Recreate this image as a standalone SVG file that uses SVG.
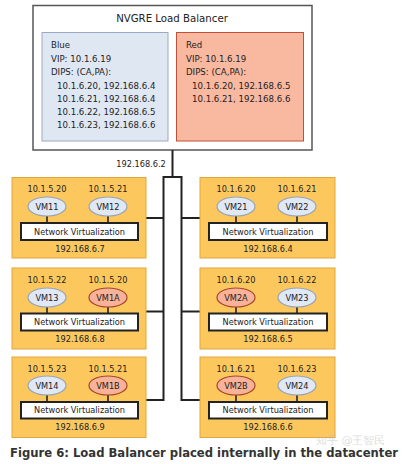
<svg xmlns="http://www.w3.org/2000/svg" width="408" height="464" viewBox="0 0 408 464">
<style>
text{font-family:"DejaVu Sans",Verdana,sans-serif;fill:#222}
.t{font-size:8.2px}
.l{font-size:8.6px}
.c{text-anchor:middle}
.host{fill:#fcc85e;stroke:#e2a53a;stroke-width:1}
.vb{fill:#dfe8f4;stroke:#98a4b4;stroke-width:1.2}
.vr{fill:#f7b29a;stroke:#a8462a;stroke-width:1.2}
.nv{fill:#fff;stroke:#222;stroke-width:2}
.ln{stroke:#222;stroke-width:1.6;fill:none}
.bus{stroke:#222;stroke-width:2;fill:none}
</style>
<rect width="408" height="464" fill="#fff"/>
<g id="lb">
<rect x="33" y="5.5" width="279" height="144.5" fill="#fff" stroke="#555" stroke-width="1.5"/>
<text x="172" y="22" class="c" font-size="10.2">NVGRE Load Balancer</text>
</g>
<g id="blue">
<rect x="42" y="32.5" width="126" height="108.5" fill="#dfe7f3" stroke="#9aaac0" stroke-width="1"/>
<text class="l" x="51" y="48">Blue</text>
<text class="l" x="51" y="61.5">VIP: 10.1.6.19</text>
<text class="l" x="51" y="75">DIPS: (CA,PA):</text>
<text class="l" x="57" y="88.5">10.1.6.20, 192.168.6.4</text>
<text class="l" x="57" y="101.5">10.1.6.21, 192.168.6.4</text>
<text class="l" x="57" y="114.5">10.1.6.22, 192.168.6.5</text>
<text class="l" x="57" y="127.5">10.1.6.23, 192.168.6.6</text>
</g>
<g id="red">
<rect x="176.5" y="32.5" width="127" height="108.5" fill="#f9b8a0" stroke="#c0503a" stroke-width="1"/>
<text class="l" x="186" y="48">Red</text>
<text class="l" x="186" y="61.5">VIP: 10.1.6.19</text>
<text class="l" x="186" y="75">DIPS: (CA,PA):</text>
<text class="l" x="192" y="88.5">10.1.6.20, 192.168.6.5</text>
<text class="l" x="192" y="101.5">10.1.6.21, 192.168.6.6</text>
</g>
<g id="connectors">
<line class="bus" x1="172.5" y1="150" x2="172.5" y2="177"/>
<path class="bus" d="M146 400 H163.5 V177 H181.5 V400 H200"/>
<line class="bus" x1="146" y1="218" x2="163.5" y2="218"/>
<line class="bus" x1="181.5" y1="218" x2="200" y2="218"/>
<line class="bus" x1="146" y1="311.5" x2="163.5" y2="311.5"/>
<line class="bus" x1="181.5" y1="311.5" x2="200" y2="311.5"/>
<text class="t c" x="141" y="167">192.168.6.2</text>
</g>
<g id="host7">
<rect class="host" x="12" y="177.5" width="134" height="80.5"/>
<text class="t c" x="47" y="191.5">10.1.5.20</text><text class="t c" x="108" y="191.5">10.1.5.21</text>
<line class="ln" x1="47" y1="216" x2="47" y2="223"/><line class="ln" x1="108" y1="216" x2="108" y2="223"/>
<ellipse class="vb" cx="47" cy="206.5" rx="19" ry="9.5"/><text class="t c" x="47" y="209.5">VM11</text>
<ellipse class="vb" cx="108" cy="206.5" rx="19" ry="9.5"/><text class="t c" x="108" y="209.5">VM12</text>
<rect class="nv" x="21" y="223" width="117" height="17"/><text class="t c" x="79.5" y="234.5">Network Virtualization</text>
<text class="t c" x="80" y="251.5">192.168.6.7</text>
</g>
<g id="host4">
<rect class="host" x="200" y="177.5" width="135" height="80.5"/>
<text class="t c" x="236" y="191.5">10.1.6.20</text><text class="t c" x="297" y="191.5">10.1.6.21</text>
<line class="ln" x1="236" y1="216" x2="236" y2="223"/><line class="ln" x1="297" y1="216" x2="297" y2="223"/>
<ellipse class="vb" cx="236" cy="206.5" rx="19" ry="9.5"/><text class="t c" x="236" y="209.5">VM21</text>
<ellipse class="vb" cx="297" cy="206.5" rx="19" ry="9.5"/><text class="t c" x="297" y="209.5">VM22</text>
<rect class="nv" x="209" y="223" width="118" height="17"/><text class="t c" x="268" y="234.5">Network Virtualization</text>
<text class="t c" x="268" y="251.5">192.168.6.4</text>
</g>
<g id="host8">
<rect class="host" x="12" y="268" width="134" height="81"/>
<text class="t c" x="47" y="282.5">10.1.5.22</text><text class="t c" x="108" y="282.5">10.1.5.20</text>
<line class="ln" x1="47" y1="307" x2="47" y2="313.5"/><line class="ln" x1="108" y1="307" x2="108" y2="313.5"/>
<ellipse class="vb" cx="47" cy="297.5" rx="19" ry="9.5"/><text class="t c" x="47" y="300.5">VM13</text>
<ellipse class="vr" cx="108" cy="297.5" rx="19" ry="9.5"/><text class="t c" x="108" y="300.5">VM1A</text>
<rect class="nv" x="21" y="313.5" width="117" height="17"/><text class="t c" x="79.5" y="325">Network Virtualization</text>
<text class="t c" x="80" y="342">192.168.6.8</text>
</g>
<g id="host5">
<rect class="host" x="200" y="268" width="135" height="81"/>
<text class="t c" x="236" y="282.5">10.1.6.20</text><text class="t c" x="297" y="282.5">10.1.6.22</text>
<line class="ln" x1="236" y1="307" x2="236" y2="313.5"/><line class="ln" x1="297" y1="307" x2="297" y2="313.5"/>
<ellipse class="vr" cx="236" cy="297.5" rx="19" ry="9.5"/><text class="t c" x="236" y="300.5">VM2A</text>
<ellipse class="vb" cx="297" cy="297.5" rx="19" ry="9.5"/><text class="t c" x="297" y="300.5">VM23</text>
<rect class="nv" x="209" y="313.5" width="118" height="17"/><text class="t c" x="268" y="325">Network Virtualization</text>
<text class="t c" x="268" y="342">192.168.6.5</text>
</g>
<g id="host9">
<rect class="host" x="12" y="357" width="134" height="80.5"/>
<text class="t c" x="47" y="371.5">10.1.5.23</text><text class="t c" x="108" y="371.5">10.1.5.21</text>
<line class="ln" x1="47" y1="395" x2="47" y2="402"/><line class="ln" x1="108" y1="395" x2="108" y2="402"/>
<ellipse class="vb" cx="47" cy="385.5" rx="19" ry="9.5"/><text class="t c" x="47" y="388.5">VM14</text>
<ellipse class="vr" cx="108" cy="385.5" rx="19" ry="9.5"/><text class="t c" x="108" y="388.5">VM1B</text>
<rect class="nv" x="21" y="402" width="117" height="16.5"/><text class="t c" x="79.5" y="413.3">Network Virtualization</text>
<text class="t c" x="80" y="430">192.168.6.9</text>
</g>
<g id="host6">
<rect class="host" x="200" y="357" width="135" height="80.5"/>
<text class="t c" x="236" y="371.5">10.1.6.21</text><text class="t c" x="297" y="371.5">10.1.6.23</text>
<line class="ln" x1="236" y1="395" x2="236" y2="402"/><line class="ln" x1="297" y1="395" x2="297" y2="402"/>
<ellipse class="vr" cx="236" cy="385.5" rx="19" ry="9.5"/><text class="t c" x="236" y="388.5">VM2B</text>
<ellipse class="vb" cx="297" cy="385.5" rx="19" ry="9.5"/><text class="t c" x="297" y="388.5">VM24</text>
<rect class="nv" x="209" y="402" width="118" height="16.5"/><text class="t c" x="268" y="413.3">Network Virtualization</text>
<text class="t c" x="268" y="430">192.168.6.6</text>
</g>
<text x="316" y="444" font-family="'Noto Sans CJK SC',sans-serif" font-size="11" style="fill:#bbb;fill-opacity:0.5">知乎 @王智民</text>
<text x="10" y="456.5" font-family="'Liberation Sans',Arial,sans-serif" font-weight="bold" font-size="11.5" textLength="388" lengthAdjust="spacingAndGlyphs" style="fill:#333">Figure 6: Load Balancer placed internally in the datacenter</text>
</svg>
